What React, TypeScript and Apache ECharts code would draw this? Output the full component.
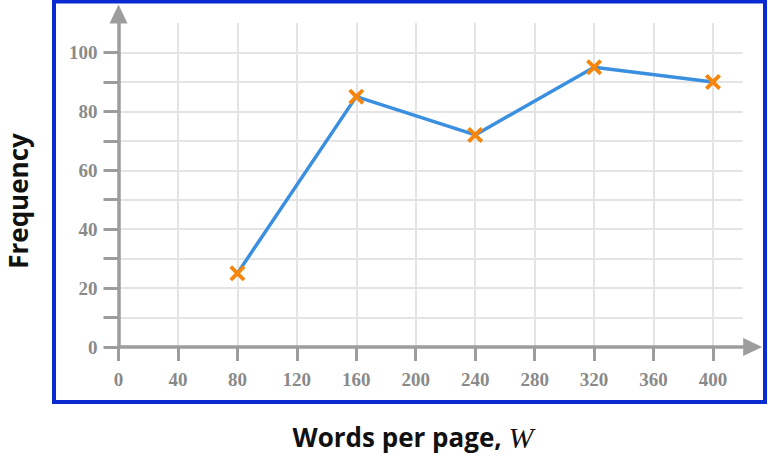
import React, { useEffect, useRef } from "react";
import * as echarts from "echarts";

const xValues = [80, 160, 240, 320, 400];
const frequencies = [25, 85, 72, 95, 90];
const xTickValues = [0, 40, 80, 120, 160, 200, 240, 280, 320, 360, 400];
const yTickValues = [0, 10, 20, 30, 40, 50, 60, 70, 80, 90, 100];
const yLabelValues = [0, 20, 40, 60, 80, 100];
const xTitle = "Words per page, ";
const xTitleVar = "W";
const yTitle = "Frequency";

const AXIS_GREY = "#9d9d9d";
const LABEL_GREY = "#8a8a8a";
const X_MARK =
  "path://M0,1.7 L1.7,0 L5,3.3 L8.3,0 L10,1.7 L6.7,5 L10,8.3 L8.3,10 L5,6.7 L1.7,10 L0,8.3 L3.3,5 Z";

export default function App() {
  const ref = useRef<HTMLDivElement>(null);
  useEffect(() => {
    if (!ref.current) return;
    const chart = echarts.init(ref.current, null, { renderer: "svg" });
    const labelStyle = {
      color: LABEL_GREY,
      fontFamily: "'Liberation Serif', 'Times New Roman', serif",
      fontWeight: "bold" as const,
      fontSize: 19,
    };
    chart.setOption({
      animation: false,
      backgroundColor: "#ffffff",
      grid: { left: 118.5, top: 23, width: 624.2, height: 324, containLabel: false },
      xAxis: {
        type: "value",
        min: 0,
        max: 420,
        interval: 20,
        axisLine: {
          show: true,
          onZero: false,
          symbol: ["none", "triangle"],
          symbolSize: [18, 19],
          symbolOffset: [0, 10],
          lineStyle: { color: AXIS_GREY, width: 3.5 },
        },
        axisTick: {
          show: true,
          customValues: xTickValues,
          length: 14,
          inside: false,
          lineStyle: { color: AXIS_GREY, width: 3 },
        },
        axisLabel: {
          show: true,
          customValues: xTickValues,
          margin: 23,
          ...labelStyle,
        },
        splitLine: { show: true, lineStyle: { color: "#e4e4e4", width: 2 } },
      },
      yAxis: {
        type: "value",
        min: 0,
        max: 110,
        interval: 10,
        axisLine: {
          show: true,
          onZero: false,
          symbol: ["none", "triangle"],
          symbolSize: [18, 19],
          symbolOffset: [0, 9],
          lineStyle: { color: AXIS_GREY, width: 3.5 },
        },
        axisTick: {
          show: true,
          customValues: yTickValues,
          length: 15,
          inside: false,
          lineStyle: { color: AXIS_GREY, width: 3 },
        },
        axisLabel: {
          show: true,
          customValues: yLabelValues,
          margin: 21,
          ...labelStyle,
        },
        splitLine: { show: true, lineStyle: { color: "#e4e4e4", width: 2 } },
      },
      series: [
        {
          type: "line",
          data: xValues.map((x, i) => [x, frequencies[i]]),
          symbol: X_MARK,
          symbolSize: 16,
          showSymbol: true,
          itemStyle: { color: "#f5850c" },
          lineStyle: { color: "#3b8fe0", width: 3.5 },
          z: 5,
        },
      ],
      graphic: [
        {
          type: "rect",
          shape: { x: 54, y: 1.5, width: 711, height: 400.5 },
          style: { fill: "none", stroke: "#0a2bd0", lineWidth: 4 },
          z: 100,
        },
        {
          type: "text",
          x: 18,
          y: 201,
          rotation: Math.PI / 2,
          style: {
            text: yTitle,
            fontFamily: "'Open Sans', sans-serif",
            fontWeight: "bold",
            fontSize: 26,
            fill: "#111111",
            align: "center",
            verticalAlign: "middle",
          },
        },
        {
          type: "text",
          x: 413,
          y: 437,
          style: {
            text: "{a|" + xTitle + "}{b|" + xTitleVar + "}",
            align: "center",
            verticalAlign: "middle",
            rich: {
              a: {
                fontFamily: "'Open Sans', sans-serif",
                fontWeight: "bold",
                fontSize: 26,
                fill: "#111111",
              },
              b: {
                fontFamily: "'Liberation Serif', serif",
                fontStyle: "italic",
                fontSize: 30,
                fill: "#111111",
              },
            },
          },
        },
      ],
    });
    return () => chart.dispose();
  }, []);
  return (
    <div
      ref={ref}
      style={{ position: "absolute", left: 0, top: 0, width: 768, height: 456 }}
    />
  );
}
